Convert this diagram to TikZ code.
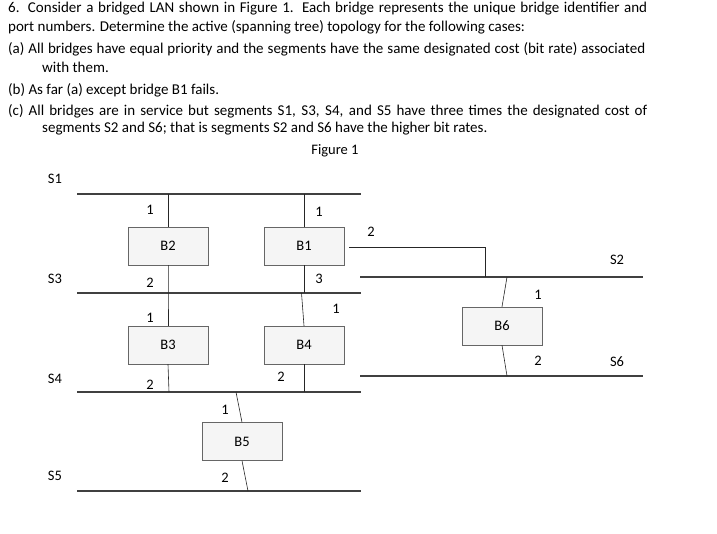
\documentclass[tikz,border=0pt]{standalone}
\usepackage{fontspec}
\setmainfont{Carlito}
\begin{document}
\begin{tikzpicture}[x=1pt,y=-1pt,
  txt/.style={anchor=west,inner sep=0pt,font=\fontsize{15}{17}\selectfont},
  lbl/.style={inner sep=0pt,font=\fontsize{14.5}{17}\selectfont},
  seg/.style={line width=2.6pt,draw=black!75},
  br/.style={draw=black!60,fill=black!4,minimum width=80pt,minimum height=38pt,inner sep=0pt,font=\fontsize{14.5}{17}\selectfont},
  ln/.style={draw=black!85,line width=0.6pt}]
\useasboundingbox (0,0) rectangle (717,534);
% text
\node[txt] (t1) at (8,9) {\makebox[639pt][s]{6. Consider a bridged LAN shown in Figure 1. Each bridge represents the unique bridge identifier and}};
\node[txt] (t2) at (8,27) {port numbers. Determine the active (spanning tree) topology for the following cases:};
\node[txt] (t3) at (8,49) {\makebox[637pt][s]{(a) All bridges have equal priority and the segments have the same designated cost (bit rate) associated}};
\node[txt] (t4) at (42,67) {with them.};
\node[txt] (t5) at (8,90) {(b) As far (a) except bridge B1 fails.};
\node[txt] (t6) at (8,111) {\makebox[639pt][s]{(c) All bridges are in service but segments S1, S3, S4, and S5 have three times the designated cost of}};
\node[txt] (t7) at (42,129) {segments S2 and S6; that is segments S2 and S6 have the higher bit rates.};
\node[lbl] (fig) at (335,151) {Figure 1};
% segments
\coordinate (s1a) at (77,194); \coordinate (s1b) at (361,194);
\coordinate (s3a) at (77,293); \coordinate (s3b) at (361,293);
\coordinate (s4a) at (77,392); \coordinate (s4b) at (361,392);
\coordinate (s5a) at (77,491); \coordinate (s5b) at (361,491);
\coordinate (s2a) at (360,277); \coordinate (s2b) at (643,277);
\coordinate (s6a) at (360,376); \coordinate (s6b) at (643,376);
\foreach \a/\b in {s1a/s1b,s3a/s3b,s4a/s4b,s5a/s5b,s2a/s2b,s6a/s6b} \draw[seg] (\a)--(\b);
% bridges
\node[br] (B2) at (168,246) {B2};
\node[br] (B1) at (304,246) {B1};
\node[br] (B3) at (168,345) {B3};
\node[br] (B4) at (304,345) {B4};
\node[br] (B6) at (502,326) {B6};
\node[br] (B5) at (242,441.5) {B5};
% connections
\draw[ln] (168,194) -- (B2.north);
\draw[ln] (B2.south) -- (168,293) -- (B3.north);
\draw[ln] (B3.south) -- (169,392);
\draw[ln] (304,194) -- (B1.north);
\draw[ln] (B1.south) -- (304,293);
\draw[ln] (301.5,293) -- (B4.north);
\draw[ln] (B4.south) -- (304,392);
\draw[ln] (236,392) -- (B5.north);
\draw[ln] (B5.south) -- (248,491);
\draw[ln] (507,277) -- (B6.north);
\draw[ln] (B6.south) -- (507,376);
\draw[ln] (349,247) -- (485,247) -- (485,277);
% port labels
\node[lbl] at (150,210) {1};
\node[lbl] at (319,212) {1};
\node[lbl] at (371,232) {2};
\node[lbl] at (150,283) {2};
\node[lbl] at (319,279) {3};
\node[lbl] at (150,318) {1};
\node[lbl] at (336,309) {1};
\node[lbl] at (150,385) {2};
\node[lbl] at (281,377) {2};
\node[lbl] at (225,410) {1};
\node[lbl] at (225,478) {2};
\node[lbl] at (538,295) {1};
\node[lbl] at (538,361) {2};
% segment labels
\node[lbl] at (55,179) {S1};
\node[lbl] at (55,279) {S3};
\node[lbl] at (55,379) {S4};
\node[lbl] at (55,476) {S5};
\node[lbl] at (617,260) {S2};
\node[lbl] at (617,362) {S6};
\end{tikzpicture}
\end{document}
